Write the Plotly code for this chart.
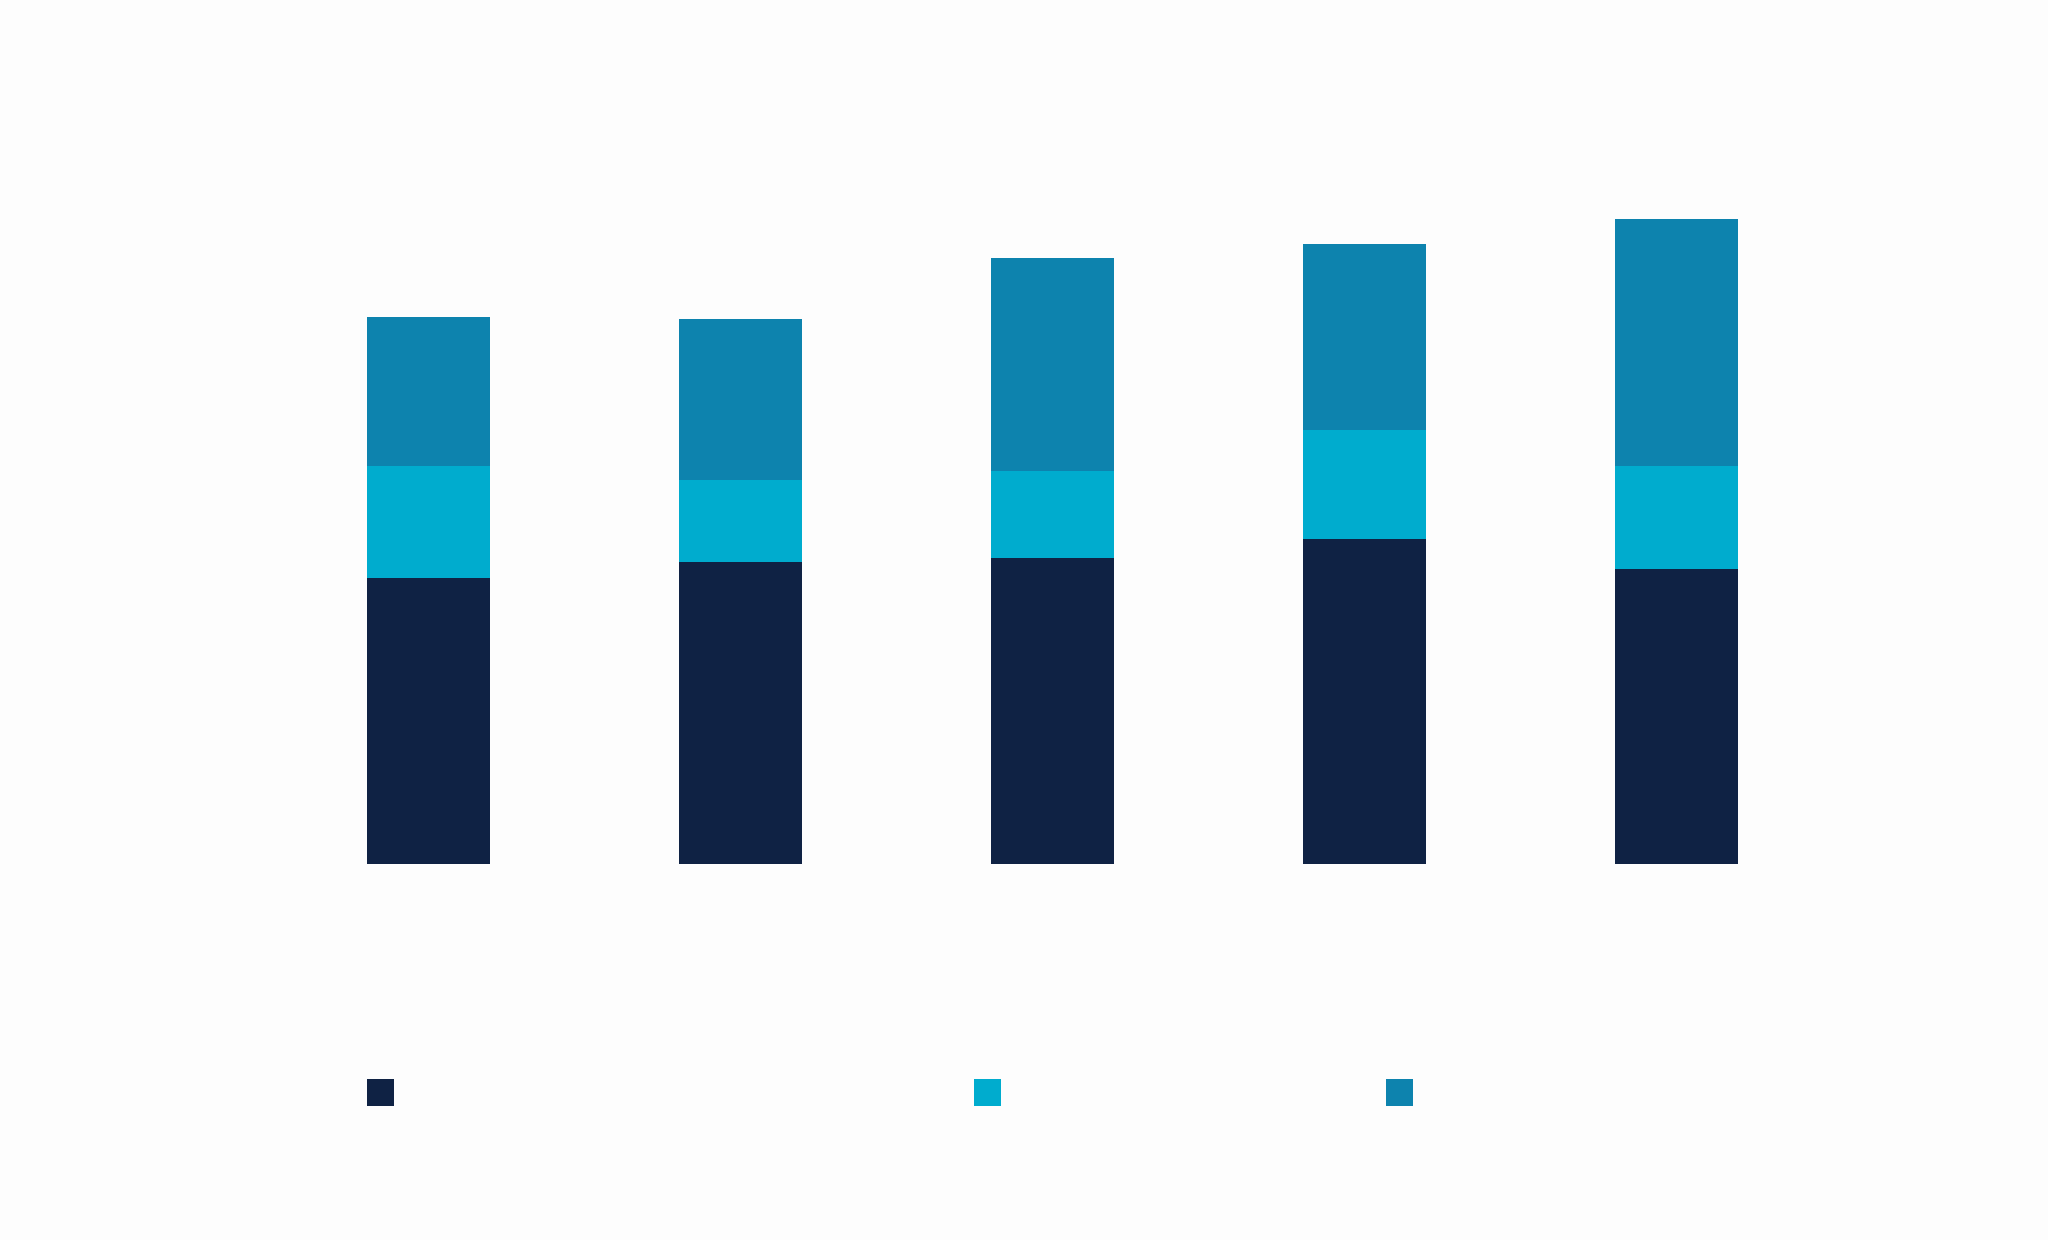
import plotly.graph_objects as go

# Data (heights, arbitrary units)
categories = ["2019", "2020", "2021", "2022", "2023"]
series_names = ["Series A", "Series B", "Series C"]
series_a = [219, 231, 234, 249, 226]
series_b = [86, 63, 67, 83, 79]
series_c = [114, 123, 163, 143, 189]
colors = ["#0f2244", "#00acce", "#0d83ae"]

BG = "#fdfdfd"
W, H = 2048, 1240
L, R, T, B = 272, 216, 100, 376
plot_w = W - L - R
plot_h = H - T - B
unit_px = 1.306
y_max = plot_h / unit_px

fig = go.Figure()
for name, vals, col in zip(series_names, [series_a, series_b, series_c], colors):
    fig.add_trace(go.Bar(x=categories, y=vals, name=name,
                         marker=dict(color=col, line=dict(width=0)),
                         showlegend=False, hoverinfo="skip"))

# Legend swatches (layout decoration), positions in pixels converted to paper
legend_x_px = [367, 974, 1386]
legend_y_px = 1079
sw = 27
for xp, col, name in zip(legend_x_px, colors, series_names):
    x0 = (xp - L) / plot_w
    x1 = (xp + sw - L) / plot_w
    y1 = (H - B - legend_y_px) / plot_h
    y0 = (H - B - legend_y_px - sw) / plot_h
    fig.add_shape(type="rect", xref="paper", yref="paper",
                  x0=x0, x1=x1, y0=y0, y1=y1,
                  fillcolor=col, line=dict(width=0))
    fig.add_annotation(xref="paper", yref="paper", x=x1 + 10 / plot_w,
                       y=(y0 + y1) / 2, text=name, showarrow=False,
                       xanchor="left", font=dict(color=BG, size=16,
                                                 family="Roboto"))

fig.update_layout(
    width=W, height=H,
    margin=dict(l=L, r=R, t=T, b=B, pad=0),
    barmode="stack",
    bargap=1 - 123 / (plot_w / 5),
    paper_bgcolor=BG, plot_bgcolor=BG,
    showlegend=False,
    font=dict(family="Roboto", color=BG),
    xaxis=dict(showgrid=False, zeroline=False, showline=False,
               showticklabels=False, ticks=""),
    yaxis=dict(range=[0, y_max], showgrid=False, zeroline=False,
               showline=False, showticklabels=False, ticks=""),
)

fig.write_html("out.html")
